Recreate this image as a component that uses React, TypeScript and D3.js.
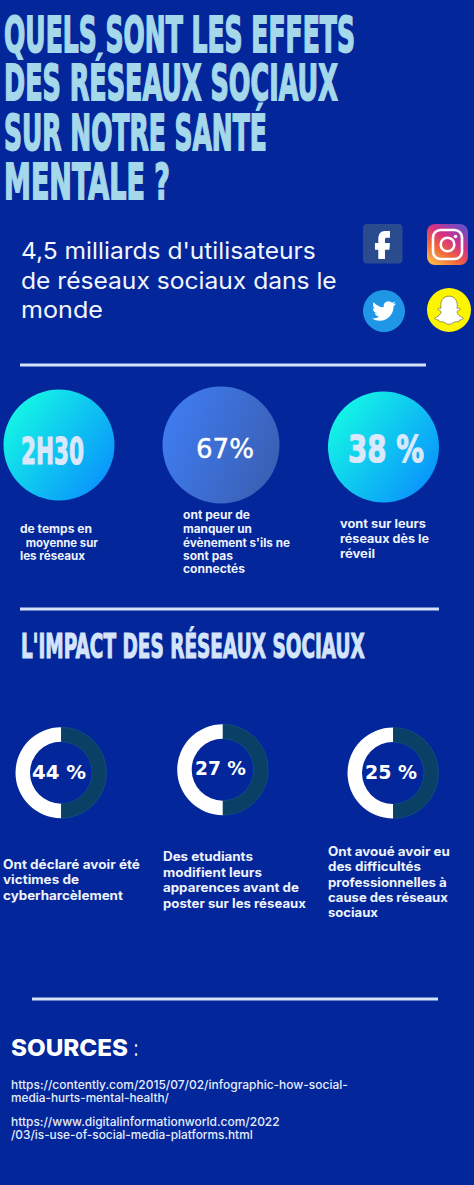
import React, { useLayoutEffect, useRef } from 'react';
import * as d3 from 'd3';

// Content
const titleLines = ['QUELS SONT LES EFFETS', 'DES RÉSEAUX SOCIAUX', 'SUR NOTRE SANTÉ', 'MENTALE ?'];
const introLines = ["4,5 milliards d'utilisateurs", 'de réseaux sociaux dans le', 'monde'];
const statLabels = ['2H30', '67%', '38 %'];
const statCaptions = [
    ['de temps en', ' moyenne sur', 'les réseaux'],
    ['ont peur de', 'manquer un', "évènement s'ils ne", 'sont pas', 'connectés'],
    ['vont sur leurs', 'réseaux dès le', 'réveil'],
];
const impactTitle = "L'IMPACT DES RÉSEAUX SOCIAUX";
const ringLabels = ['44 %', '27 %', '25 %'];
// the rings are all drawn half and half in the original, whatever the label says
const ringShares = [
    [50, 50],
    [50, 50],
    [50, 50],
];
const ringCaptions = [
    ['Ont déclaré avoir été', 'victimes de', 'cyberharcèlement'],
    ['Des etudiants', 'modifient leurs', 'apparences avant de', 'poster sur les réseaux'],
    ['Ont avoué avoir eu', 'des difficultés', 'professionnelles à', 'cause des réseaux', 'sociaux'],
];
const sourceLines = [
    'https://contently.com/2015/07/02/infographic-how-social-',
    'media-hurts-mental-health/',
    'https://www.digitalinformationworld.com/2022',
    '/03/is-use-of-social-media-platforms.html',
];

// Layout
const W = 474;
const H = 1185;
const BG = '#03269a';
const HEAVY = '"DejaVu Sans", sans-serif';
const WIDE = 'Inter, "DejaVu Sans", sans-serif';

const titleLayout = [
    { y: 52, w: 351 },
    { y: 100, w: 334 },
    { y: 149.5, w: 263 },
    { y: 199, w: 166 },
];
const introLayout = [
    { y: 259, w: 295 },
    { y: 289, w: 316 },
    { y: 318, w: 82 },
];
const rules = [
    { x1: 20, x2: 426, y: 365 },
    { x1: 20, x2: 439, y: 609 },
    { x1: 32, x2: 438, y: 999 },
];
const statCircles = [
    { cx: 59, cy: 445, r: 55.5, fill: 'url(#cyanGrad)' },
    { cx: 221, cy: 445, r: 58.5, fill: 'url(#blueGrad)' },
    { cx: 383.5, cy: 447, r: 55.5, fill: 'url(#cyanGrad)' },
];
const statLabelLayout = [
    { x: 21, y: 464, w: 63, size: 37, font: HEAVY, weight: 700, stroke: 1.2, fill: '#dbe8fb' },
    { x: 196, y: 458, w: 58, size: 27, font: HEAVY, weight: 400, stroke: 0.4, fill: '#ffffff' },
    { x: 348, y: 462, w: 76, size: 38, font: HEAVY, weight: 700, stroke: 1.2, fill: '#dbe8fb' },
];
const statCaptionLayout = [
    { x: [20, 23, 20], y: [532.7, 546.5, 560], w: [72, 75, 65] },
    { x: [183, 183, 183, 183, 183], y: [518.7, 532.7, 546.5, 560, 573], w: [67, 69, 107, 50, 62] },
    { x: [340, 340, 340], y: [528, 543, 558], w: [86, 89, 35] },
];
const ringCenters = [
    { cx: 61, cy: 772.7, labelX: 32, labelY: 778.7, labelW: 54 },
    { cx: 222.7, cy: 769.7, labelX: 195, labelY: 775, labelW: 51 },
    { cx: 393, cy: 773, labelX: 365, labelY: 778.7, labelW: 52 },
];
const ringCaptionLayout = [
    { x: 3, y: [869, 884, 900], w: [137, 76, 120] },
    { x: 163, y: [861, 876.7, 892, 907.5], w: [90, 99, 136, 143] },
    { x: 328, y: [855.7, 871, 887, 902, 917], w: [122, 93, 119, 120, 50] },
];
const sourceLayout = [
    { y: 1088.7, w: 337 },
    { y: 1102, w: 158 },
    { y: 1126, w: 269 },
    { y: 1139, w: 242 },
];

const pie = d3.pie<number>().sort(null).startAngle(0).endAngle(Math.PI * 2);
const ringArc = d3.arc<d3.PieArcDatum<number>>().innerRadius(31).outerRadius(45.5);
const ringColors = ['#0a3f66', '#ffffff'];

interface FitProps {
    x: number;
    y: number;
    w: number;
    size: number;
    fill: string;
    font: string;
    weight?: number;
    stroke?: number;
    children: string;
}

// Fonts differ from the original, so each line is scaled in x to its measured width
const Fit = ({ x, y, w, size, fill, font, weight = 400, stroke = 0, children }: FitProps) => {
    const ref = useRef<SVGTextElement>(null);

    useLayoutEffect(() => {
        if (!ref.current) return;
        const natural = ref.current.getComputedTextLength();
        ref.current.setAttribute('transform', `translate(${x},${y}) scale(${w / natural},1)`);
    }, [x, y, w, children]);

    return (
        <text
            ref={ref}
            transform={`translate(${x},${y})`}
            fontSize={size}
            fontFamily={font}
            fontWeight={weight}
            fill={fill}
            stroke={stroke ? fill : 'none'}
            strokeWidth={stroke}
            xmlSpace="preserve"
        >
            {children}
        </text>
    );
};

const Icons = () => (
    <g>
        <rect x={363} y={224} width={39.5} height={39.5} rx={4} fill="#2a4c8f" />
        <path
            transform="translate(365.5,228.5) scale(1.39,1.7)"
            fill="#ffffff"
            d="M14 8.5V6.6c0-.9.6-1.1 1-1.1h2.6V1.5h-3.6C10 1.5 9.2 4.4 9.2 6.3v2.2H6.8v4h2.4V18h4.8V12.5h3.2l.4-4z"
        />
        <rect x={427} y={224} width={41} height={41} rx={8} fill="url(#instaGrad)" />
        <rect x={433} y={230} width={29} height={29} rx={7.5} fill="none" stroke="#fff" strokeWidth={2.6} />
        <circle cx={447.5} cy={244.5} r={6.8} fill="none" stroke="#fff" strokeWidth={2.6} />
        <circle cx={455.5} cy={236.5} r={1.8} fill="#fff" />
        <circle cx={384} cy={311} r={21} fill="#1f96e6" />
        <path
            transform="translate(372,299) scale(1)"
            fill="#ffffff"
            d="M23.953 4.57a10 10 0 01-2.825.775 4.958 4.958 0 002.163-2.723c-.951.555-2.005.959-3.127 1.184a4.92 4.92 0 00-8.384 4.482C7.69 8.095 4.067 6.13 1.64 3.162a4.822 4.822 0 00-.666 2.475c0 1.71.87 3.213 2.188 4.096a4.904 4.904 0 01-2.228-.616v.06a4.923 4.923 0 003.946 4.827 4.996 4.996 0 01-2.212.085 4.936 4.936 0 004.604 3.417 9.867 9.867 0 01-6.102 2.105c-.39 0-.779-.023-1.17-.067a13.995 13.995 0 007.557 2.209c9.053 0 13.998-7.496 13.998-13.985 0-.21 0-.42-.015-.63A9.935 9.935 0 0024 4.59z"
        />
        <circle cx={449} cy={310} r={22} fill="#fdf400" />
        <path
            transform="translate(431.5,292.5) scale(1.46)"
            fill="#ffffff"
            stroke="#3a3a20"
            strokeWidth={0.35}
            d="M12 2.5c3.4 0 5.6 2.5 5.6 5.7 0 1 0 1.8-.1 2.6.6.2 1.2-.3 1.7 0 .7.4.3 1.1-.4 1.4-.6.3-1.4.5-1.4 1.1.4 1.6 2 3.4 4 3.9.5.1.6.6.2.9-.7.5-1.7.6-2.5.8-.3.5-.1 1.1-.6 1.2-1-.1-2-.3-3 .2-1 .6-2 1.5-3.5 1.5s-2.5-.9-3.5-1.5c-1-.5-2-.3-3-.2-.5-.1-.3-.7-.6-1.2-.8-.2-1.8-.3-2.5-.8-.4-.3-.3-.8.2-.9 2-.5 3.6-2.3 4-3.9 0-.6-.8-.8-1.4-1.1-.7-.3-1.1-1-.4-1.4.5-.3 1.1.2 1.7 0-.1-.8-.1-1.6-.1-2.6 0-3.2 2.2-5.7 5.6-5.7z"
        />
    </g>
);

const App = () => (
    <>
        <style>{'body{margin:0;background:' + BG + '}'}</style>
        <svg width={W} height={H} viewBox={`0 0 ${W} ${H}`} style={{ display: 'block' }}>
            <defs>
                <linearGradient id="cyanGrad" x1="0.1" y1="0.2" x2="0.9" y2="0.8">
                    <stop offset="0" stopColor="#14f3e6" />
                    <stop offset="1" stopColor="#0a98fb" />
                </linearGradient>
                <linearGradient id="blueGrad" x1="0" y1="0.3" x2="1" y2="0.7">
                    <stop offset="0" stopColor="#3f7cf2" />
                    <stop offset="1" stopColor="#3a5fb2" />
                </linearGradient>
                <linearGradient id="instaGrad" x1="0.1" y1="1" x2="0.8" y2="0">
                    <stop offset="0" stopColor="#fdc04a" />
                    <stop offset="0.35" stopColor="#f0653a" />
                    <stop offset="0.65" stopColor="#d52f86" />
                    <stop offset="1" stopColor="#6a4fc8" />
                </linearGradient>
            </defs>
            <rect width={W} height={H} fill={BG} />

            {titleLines.map((t, i) => (
                <Fit key={t} x={4} y={titleLayout[i].y} w={titleLayout[i].w} size={49} font={HEAVY} weight={700} stroke={1.8} fill="#a5d8ea">
                    {t}
                </Fit>
            ))}

            {introLines.map((t, i) => (
                <Fit key={t} x={21} y={introLayout[i].y} w={introLayout[i].w} size={23} font={WIDE} fill="#f2f6fd">
                    {t}
                </Fit>
            ))}

            <Icons />

            {rules.map((r) => (
                <line key={r.y} x1={r.x1} x2={r.x2} y1={r.y} y2={r.y} stroke="#d3e2fb" strokeWidth={3} />
            ))}

            {statCircles.map((c) => (
                <circle key={c.cx} cx={c.cx} cy={c.cy} r={c.r} fill={c.fill} />
            ))}
            {statLabels.map((t, i) => {
                const l = statLabelLayout[i];
                return (
                    <Fit key={t} x={l.x} y={l.y} w={l.w} size={l.size} font={l.font} weight={l.weight} stroke={l.stroke} fill={l.fill}>
                        {t}
                    </Fit>
                );
            })}
            {statCaptions.map((lines, i) =>
                lines.map((t, j) => (
                    <Fit
                        key={t}
                        x={statCaptionLayout[i].x[j]}
                        y={statCaptionLayout[i].y[j]}
                        w={statCaptionLayout[i].w[j]}
                        size={11.5}
                        font={WIDE}
                        weight={700}
                        fill="#eef3fc"
                    >
                        {t}
                    </Fit>
                )),
            )}

            <Fit x={21} y={658} w={344} size={33} font={HEAVY} weight={700} stroke={1.2} fill="#d3e4fb">
                {impactTitle}
            </Fit>

            {ringShares.map((shares, i) => {
                const c = ringCenters[i];
                return (
                    <g key={i}>
                        <g transform={`translate(${c.cx},${c.cy})`}>
                            {pie(shares).map((d, k) => (
                                <path
                                    key={k}
                                    d={ringArc(d) ?? ''}
                                    fill={ringColors[k]}
                                    stroke={k === 0 ? '#12607c' : 'none'}
                                    strokeWidth={0.6}
                                />
                            ))}
                        </g>
                        <Fit x={c.labelX} y={c.labelY} w={c.labelW} size={19} font={HEAVY} weight={700} fill="#ffffff">
                            {ringLabels[i]}
                        </Fit>
                    </g>
                );
            })}
            {ringCaptions.map((lines, i) =>
                lines.map((t, j) => (
                    <Fit
                        key={t}
                        x={ringCaptionLayout[i].x}
                        y={ringCaptionLayout[i].y[j]}
                        w={ringCaptionLayout[i].w[j]}
                        size={12.5}
                        font={WIDE}
                        weight={700}
                        fill="#eef3fc"
                    >
                        {t}
                    </Fit>
                )),
            )}

            <Fit x={11} y={1056} w={117} size={23} font={WIDE} weight={800} fill="#ffffff">
                SOURCES
            </Fit>
            <Fit x={134} y={1056} w={4} size={23} font={WIDE} fill="#ffffff">
                :
            </Fit>
            {sourceLines.map((t, i) => (
                <Fit key={t} x={11} y={sourceLayout[i].y} w={sourceLayout[i].w} size={12} font={WIDE} weight={500} fill="#e6edfa">
                    {t}
                </Fit>
            ))}
        </svg>
    </>
);

export default App;
